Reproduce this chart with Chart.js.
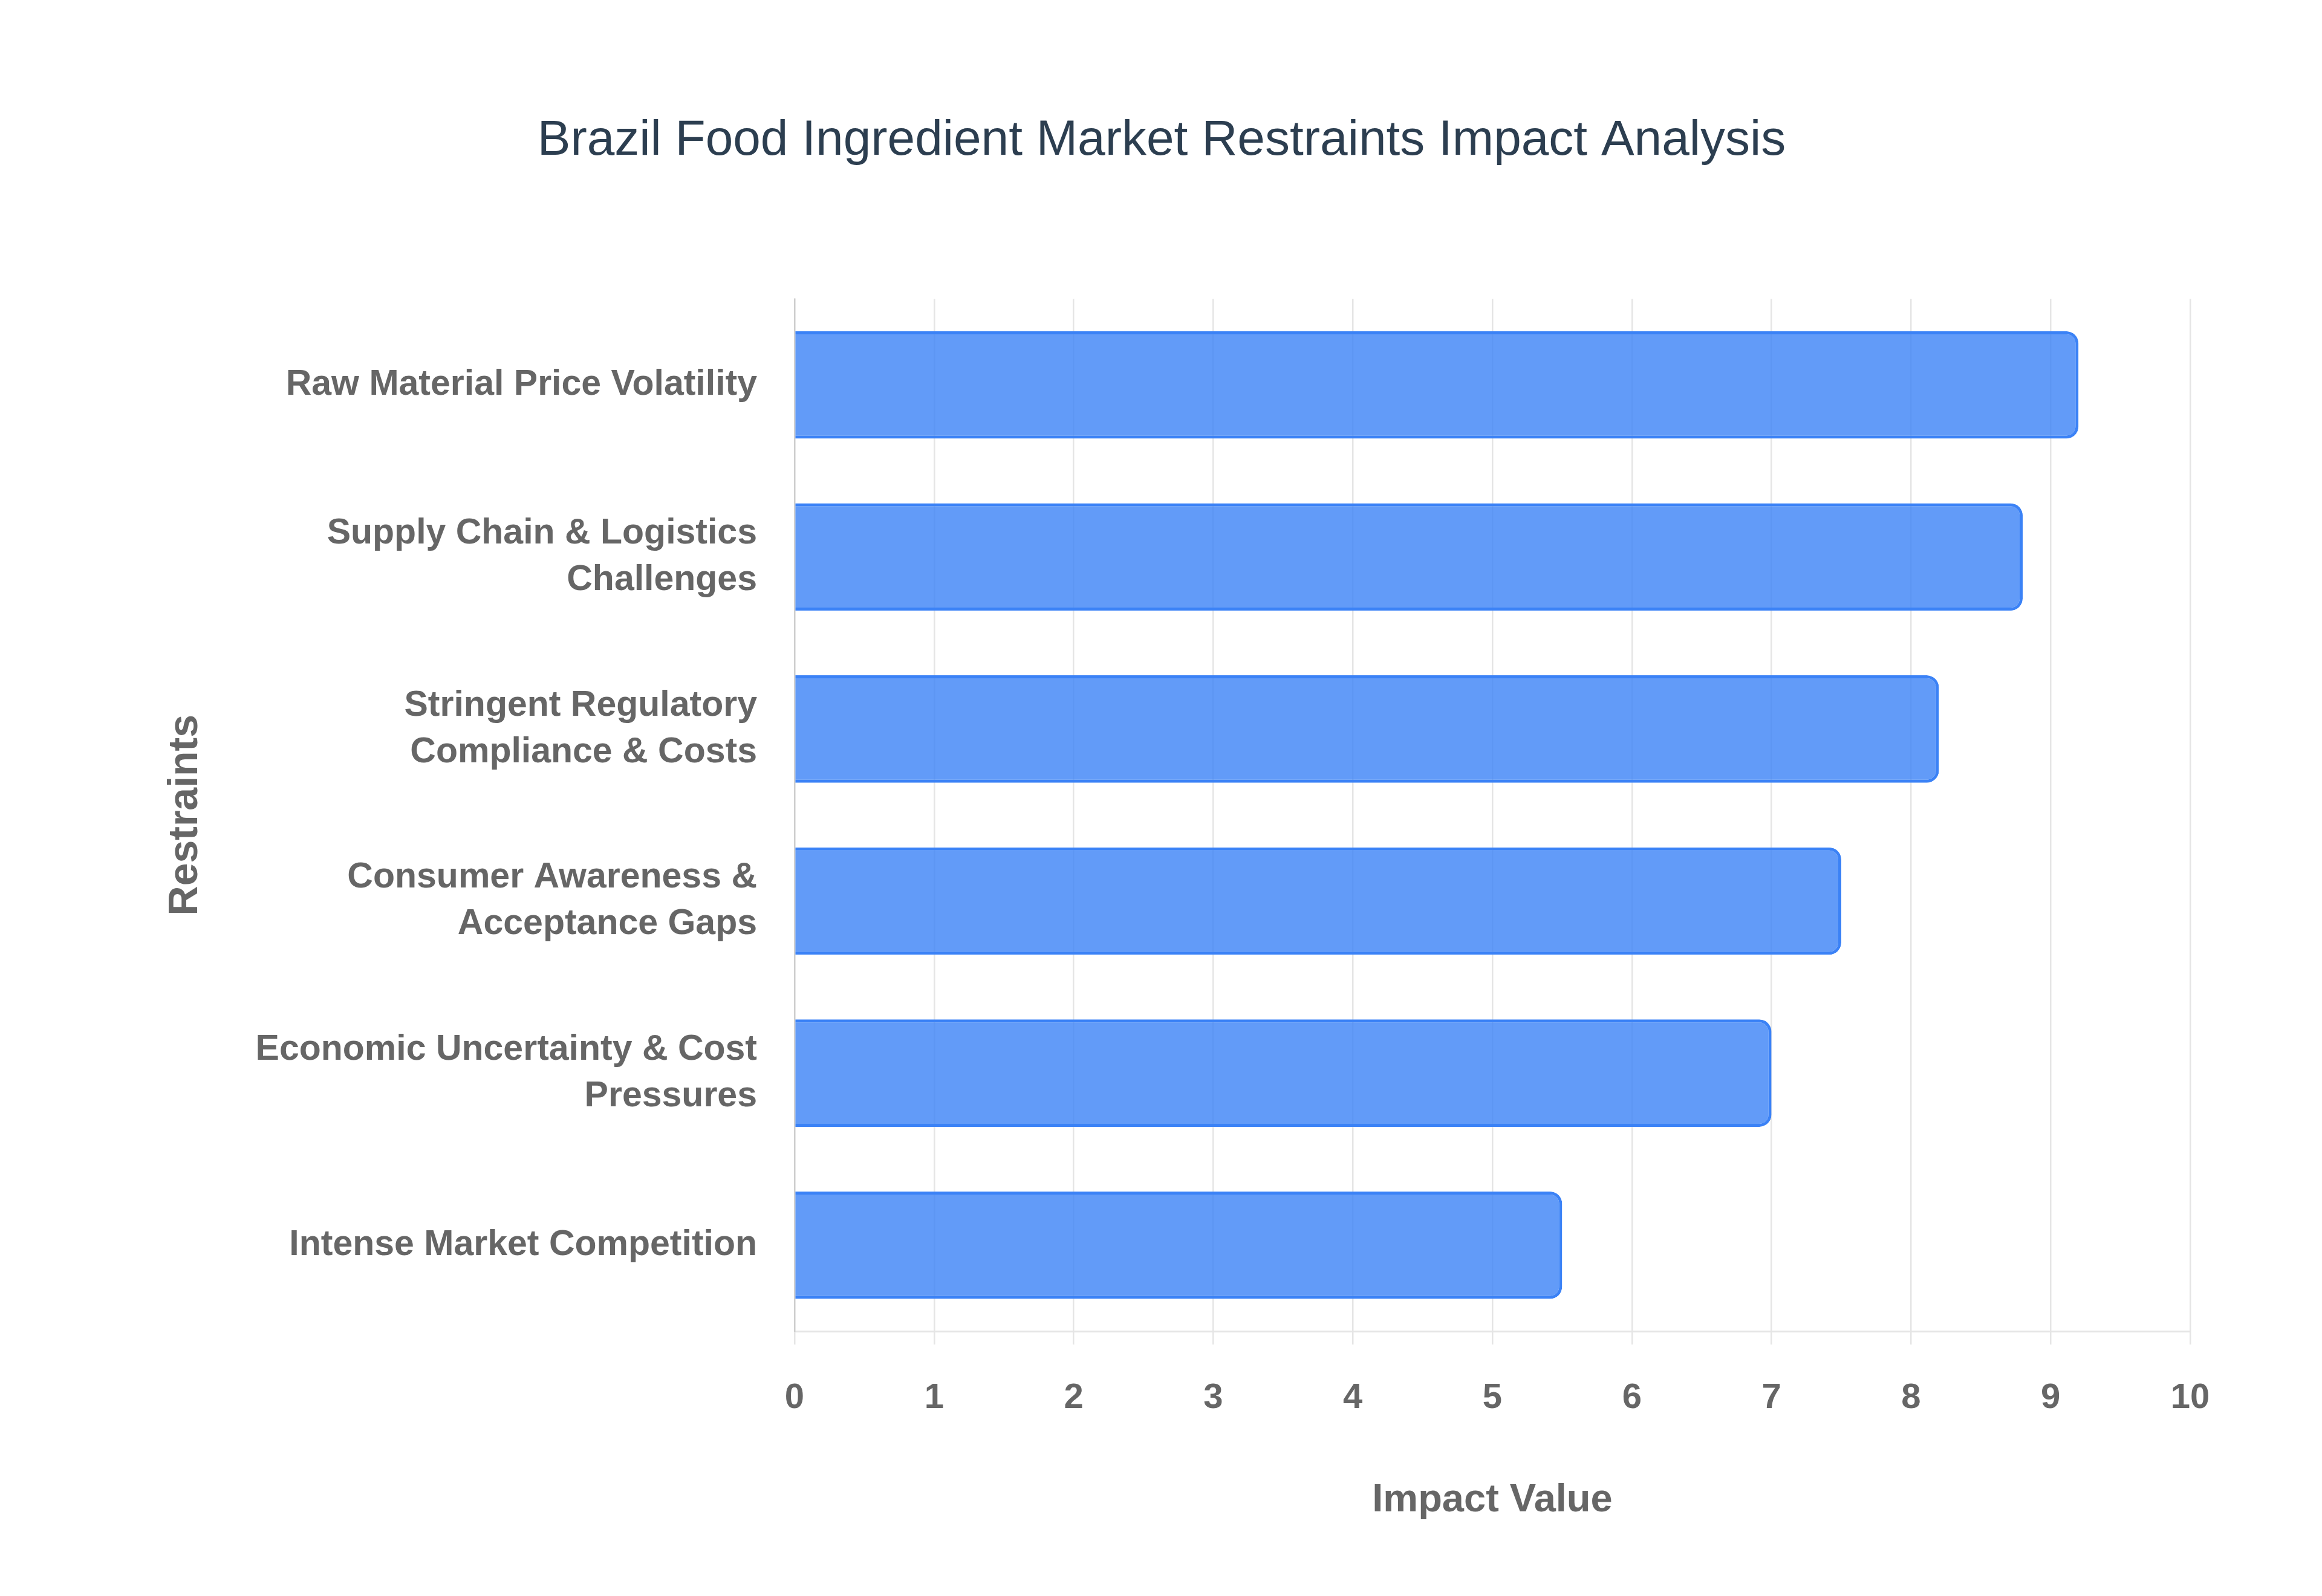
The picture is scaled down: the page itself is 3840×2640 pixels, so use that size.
<!DOCTYPE html>
<html>
<head>
<meta charset="utf-8">
<script src="https://cdn.jsdelivr.net/npm/chart.js@4.4.1/dist/chart.umd.min.js"></script>
<style>
  html, body { margin: 0; padding: 0; background: #ffffff; }
  #wrap { width: 3840px; height: 2640px; position: relative; }
</style>
</head>
<body>
<div id="wrap"><canvas id="restraintsChart"></canvas></div>
<script>
// restraint names (wrapped as on the original) and their impact scores
const restraints = [
  ["Raw Material Price Volatility"],
  ["Supply Chain & Logistics", "Challenges"],
  ["Stringent Regulatory", "Compliance & Costs"],
  ["Consumer Awareness &", "Acceptance Gaps"],
  ["Economic Uncertainty & Cost", "Pressures"],
  ["Intense Market Competition"]
];
const impactValues = [9.2, 8.8, 8.2, 7.5, 7.0, 5.5];
const impactTicks = [0, 1, 2, 3, 4, 5, 6, 7, 8, 9, 10];

const FONT = "'Liberation Sans', Arial, Helvetica, sans-serif";

document.addEventListener("DOMContentLoaded", () => {
  const ctx = document.getElementById("restraintsChart").getContext("2d");

  new Chart(ctx, {
    type: "bar",
    data: {
      labels: restraints,
      datasets: [
        {
          label: "Impact Value",
          data: impactValues,
          backgroundColor: "rgba(59, 130, 246, 0.8)",
          borderColor: "#3b82f6",
          borderWidth: 5,
          borderRadius: 20,
          borderSkipped: "start",
          categoryPercentage: 0.8,
          barPercentage: 0.78
        }
      ]
    },
    options: {
      indexAxis: "y",
      responsive: true,
      maintainAspectRatio: false,
      devicePixelRatio: 1,
      animation: false,
      layout: { padding: { left: 220, right: 218, top: 0, bottom: 0 } },
      plugins: {
        legend: { display: false },
        tooltip: { enabled: false },
        title: {
          display: true,
          text: "Brazil Food Ingredient Market Restraints Impact Analysis",
          color: "#2c3e50",
          font: { family: FONT, size: 82, weight: "normal" },
          padding: { top: 184, bottom: 212 }
        }
      },
      scales: {
        x: {
          min: 0,
          max: 10,
          afterBuildTicks: (scale) => {
            scale.ticks = impactTicks.map((v) => ({ value: v }));
          },
          afterFit: (scale) => { scale.height = 438; },
          grid: {
            color: "rgba(0, 0, 0, 0.1)",
            lineWidth: 2.5,
            tickLength: 22
          },
          border: { display: true, color: "rgba(0, 0, 0, 0.1)", width: 3 },
          ticks: {
            color: "#666666",
            padding: 54,
            font: { family: FONT, size: 58, weight: "bold" }
          },
          title: {
            display: true,
            text: "Impact Value",
            color: "#666666",
            font: { family: FONT, size: 65, weight: "bold" },
            padding: { top: 0, bottom: 119 }
          }
        },
        y: {
          afterFit: (scale) => { scale.width = 1094; },
          grid: { display: false, drawTicks: false },
          border: { display: true, color: "rgba(0, 0, 0, 0.1)", width: 2.5 },
          ticks: {
            color: "#666666",
            padding: 62,
            font: { family: FONT, size: 59, weight: "bold", lineHeight: 1.3 }
          },
          title: {
            display: true,
            text: "Restraints",
            color: "#666666",
            font: { family: FONT, size: 68, weight: "bold" },
            padding: { top: 46, bottom: 16 }
          }
        }
      }
    }
  });
});
</script>
</body>
</html>
